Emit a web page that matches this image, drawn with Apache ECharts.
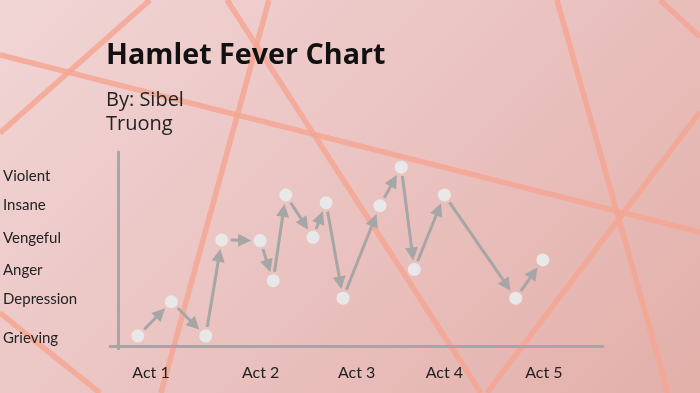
<!DOCTYPE html>
<html>
<head>
<meta charset="utf-8">
<script src="https://cdn.jsdelivr.net/npm/echarts@6/dist/echarts.min.js"></script>
<style>
  html, body { margin: 0; padding: 0; }
  body { width: 700px; height: 393px; overflow: hidden;
    background: linear-gradient(135deg, #f1d5d5 0%, #eac3c1 50%, #e3afa9 100%); }
  #chart { width: 700px; height: 393px; }
</style>
</head>
<body>
<div id="chart"></div>
<script>
// ---- Data ----
const titleText = 'Hamlet Fever Chart';
const authorText = 'By: Sibel\nTruong';

// Emotional levels (y axis)
const levelNames  = ['Grieving', 'Depression', 'Anger', 'Vengeful', 'Insane', 'Violent'];
const levelValues = [1.0, 2.2, 3.1, 4.1, 5.1, 6.0];

// Acts (x axis, story progress %)
const actNames     = ['Act 1', 'Act 2', 'Act 3', 'Act 4', 'Act 5'];
const actPositions = [6.8, 29.4, 49.2, 67.3, 87.8];

// Hamlet's fever points
const storyX = [4.1, 11.0, 18.1, 21.4, 29.3, 32.0, 34.6, 40.2, 42.9, 46.4, 54.0, 58.4, 61.1, 67.3, 82.0, 87.6];
const feverY = [1.06, 2.12, 1.06, 4.03, 4.01, 2.77, 5.42, 4.11, 5.18, 2.23, 5.09, 6.28, 3.12, 5.42, 2.23, 3.41];

// Decorative backdrop strokes (page pixel space 700 x 393)
const backdropFrom = [[150, 0], [0, 55], [269, 0], [227, 0], [487, 393], [557, 0], [660, 0], [0, 313]];
const backdropTo   = [[0, 133], [700, 232], [161, 393], [481, 393], [700, 112], [668, 393], [700, 37], [100, 393]];

// ---- Build ----
const points = storyX.map((x, i) => [x, feverY[i]]);
const arrows = [];
for (let i = 0; i < points.length - 1; i++) {
  arrows.push([points[i][0], points[i][1], points[i + 1][0], points[i + 1][1]]);
}
const backdrop = backdropFrom.map((p, i) => ({ coords: [p, backdropTo[i]] }));

const gray = '#a6a6a6';
const font = 'Lato';
const headFont = 'Open Sans';

const chart = echarts.init(document.getElementById('chart'), null, { renderer: 'canvas' });
chart.setOption({
  backgroundColor: 'transparent',
  animation: false,
  title: [
    { text: titleText, left: 106, top: 41, padding: 0,
      textStyle: { fontFamily: headFont, fontWeight: 'bold', fontSize: 28.7, color: '#111' } },
    { text: authorText, left: 106, top: 88, padding: 0,
      textStyle: { fontFamily: headFont, fontWeight: 'normal', fontSize: 20, lineHeight: 24, color: '#222' } }
  ],
  grid: [
    { left: 117, right: 97, top: 152, bottom: 47 },
    { left: 0, right: 0, top: 0, bottom: 0 }
  ],
  xAxis: [
    { type: 'value', gridIndex: 0, min: 0, max: 100,
      axisLine: { show: true, lineStyle: { color: gray, width: 3 } },
      axisTick: { show: true, customValues: [0], length: 4, lineStyle: { color: gray, width: 3 } },
      splitLine: { show: false },
      axisLabel: { customValues: actPositions, margin: 19,
        formatter: v => { const i = actPositions.indexOf(v); return i >= 0 ? actNames[i] : ''; },
        fontFamily: font, fontSize: 16, color: '#222' } },
    { type: 'value', gridIndex: 1, min: 0, max: 700, show: false }
  ],
  yAxis: [
    { type: 'value', gridIndex: 0, min: 0.75, max: 6.75,
      axisLine: { show: true, lineStyle: { color: gray, width: 3 } },
      axisTick: { show: true, customValues: [0.75], length: 9, lineStyle: { color: gray, width: 3 } },
      splitLine: { show: false },
      axisLabel: { customValues: levelValues, margin: 115, align: 'left',
        formatter: v => { const i = levelValues.indexOf(v); return i >= 0 ? levelNames[i] : ''; },
        fontFamily: font, fontSize: 15, color: '#222' } },
    { type: 'value', gridIndex: 1, min: 0, max: 393, inverse: true, show: false }
  ],
  series: [
    { type: 'lines', coordinateSystem: 'cartesian2d', xAxisIndex: 1, yAxisIndex: 1,
      silent: true, z: 0, data: backdrop,
      lineStyle: { color: '#f5a693', width: 5.5, opacity: 0.85, curveness: 0 } },
    { type: 'custom', xAxisIndex: 0, yAxisIndex: 0, z: 3, silent: true,
      data: arrows, encode: { x: [0, 2], y: [1, 3] },
      renderItem: function (params, api) {
        const a = api.coord([api.value(0), api.value(1)]);
        const b = api.coord([api.value(2), api.value(3)]);
        const dx = b[0] - a[0], dy = b[1] - a[1], L = Math.hypot(dx, dy);
        const ux = dx / L, uy = dy / L, nx = -uy, ny = ux;
        const g0 = 9, g1 = 9, head = 13, hw = 6.5;
        const s = [a[0] + ux * g0, a[1] + uy * g0];
        const tip = [b[0] - ux * g1, b[1] - uy * g1];
        const base = [tip[0] - ux * head, tip[1] - uy * head];
        return { type: 'group', children: [
          { type: 'line', shape: { x1: s[0], y1: s[1], x2: base[0] + ux * 2, y2: base[1] + uy * 2 },
            style: { stroke: gray, lineWidth: 3 } },
          { type: 'polygon', shape: { points: [tip,
              [base[0] + nx * hw, base[1] + ny * hw], [base[0] - nx * hw, base[1] - ny * hw]] },
            style: { fill: gray } }
        ] };
      } },
    { type: 'scatter', xAxisIndex: 0, yAxisIndex: 0, z: 4, silent: true,
      data: points, symbolSize: 13,
      itemStyle: { color: '#e8e8e8', opacity: 1 } }
  ]
});
</script>
</body>
</html>
